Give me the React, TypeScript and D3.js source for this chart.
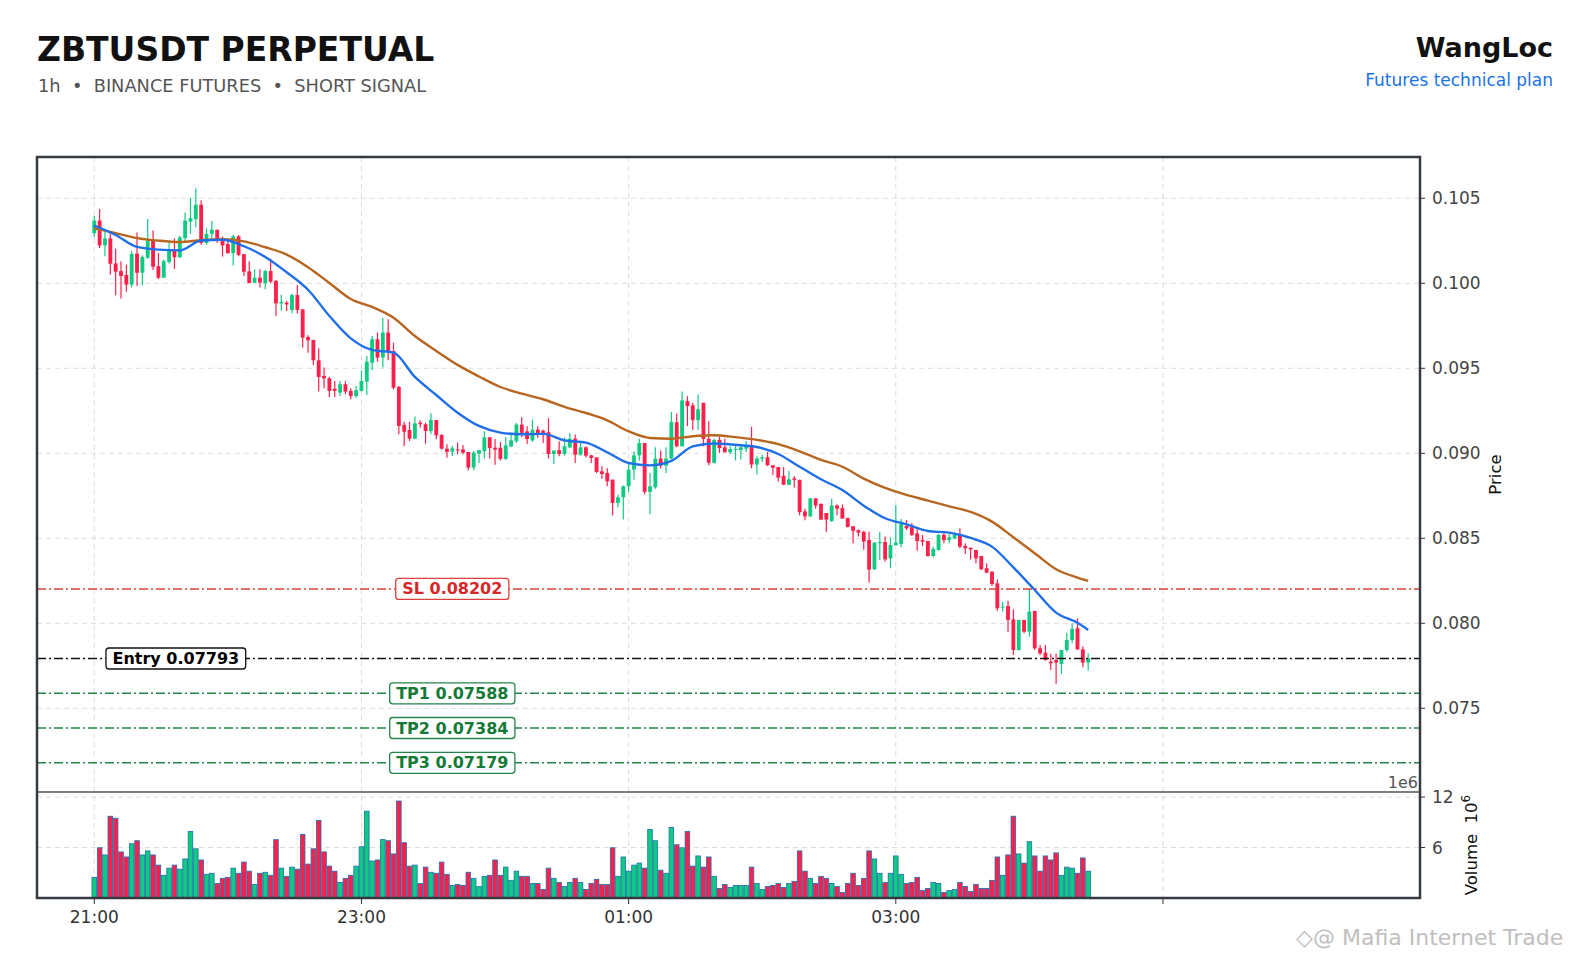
import React, { useEffect, useRef } from "react";
import * as d3 from "d3";

// one candle every 2.4 minutes on the axis (25 per hour)
const opens = [
  0.10295, 0.10369, 0.10223, 0.10264, 0.10117, 0.10072, 0.10049, 0.09992, 0.10175, 0.10062,
  0.1015, 0.10251, 0.10101, 0.10033, 0.10126, 0.10198, 0.10153, 0.10266, 0.10363, 0.10377,
  0.10462, 0.10237, 0.10291, 0.10315, 0.10251, 0.10231, 0.10177, 0.10276, 0.10171, 0.1007,
  0.10004, 0.10033, 0.1, 0.10072, 0.10014, 0.09882, 0.09886, 0.09843, 0.09931, 0.09847,
  0.09684, 0.09667, 0.09547, 0.09455, 0.09441, 0.0938, 0.09357, 0.09406, 0.09367, 0.09337,
  0.09367, 0.09421, 0.09533, 0.09671, 0.09563, 0.0971, 0.09602, 0.0939, 0.09167, 0.09137,
  0.09086, 0.0918, 0.09171, 0.09131, 0.09196, 0.09108, 0.09027, 0.0901, 0.09023, 0.09023,
  0.09008, 0.08916, 0.08998, 0.09012, 0.09094, 0.09033, 0.09033, 0.08967, 0.09041, 0.09071,
  0.09169, 0.09129, 0.09076, 0.09139, 0.09133, 0.09124, 0.08996, 0.09018, 0.08996, 0.09035,
  0.09086, 0.08992, 0.09035, 0.08988, 0.08976, 0.08894, 0.08884, 0.08845, 0.08708, 0.08741,
  0.08806, 0.08904, 0.08988, 0.09061, 0.08773, 0.088, 0.08969, 0.08927, 0.08969, 0.09182,
  0.09041, 0.09307, 0.09282, 0.09195, 0.09297, 0.09085, 0.08944, 0.09079, 0.09035, 0.09006,
  0.09019, 0.09019, 0.09027, 0.09041, 0.08934, 0.08969, 0.08977, 0.0893, 0.08919, 0.08867,
  0.08815, 0.08853, 0.08844, 0.08658, 0.08629, 0.08735, 0.08703, 0.08649, 0.08602, 0.08693,
  0.08678, 0.0862, 0.08571, 0.08548, 0.08538, 0.0849, 0.08318, 0.08471, 0.08478, 0.08382,
  0.08459, 0.08467, 0.08573, 0.08565, 0.08529, 0.0849, 0.08484, 0.08396, 0.08431, 0.0852,
  0.0849, 0.085, 0.0852, 0.08455, 0.08445, 0.08431, 0.08396, 0.08324, 0.08304, 0.08235,
  0.08092, 0.08102, 0.08023, 0.07843, 0.0802, 0.07951, 0.08073, 0.07853, 0.07827, 0.07774,
  0.07784, 0.07761, 0.07843, 0.07902, 0.07971, 0.07847, 0.07769,
];
const highs = [
  0.10396, 0.10437, 0.10305, 0.10303, 0.10204, 0.1013, 0.10111, 0.10188, 0.10299, 0.10163,
  0.10379, 0.10311, 0.10179, 0.1014, 0.10237, 0.10264, 0.1028, 0.10416, 0.10501, 0.10559,
  0.10489, 0.10324, 0.10367, 0.10315, 0.10276, 0.10251, 0.10285, 0.10284, 0.10171, 0.1013,
  0.10082, 0.10082, 0.10078, 0.10144, 0.10019, 0.09932, 0.09896, 0.09939, 0.0999, 0.09847,
  0.09694, 0.09667, 0.09618, 0.09504, 0.09449, 0.09425, 0.09425, 0.09425, 0.09382, 0.09396,
  0.09488, 0.09573, 0.0969, 0.0971, 0.09798, 0.09788, 0.09651, 0.09396, 0.09186, 0.09186,
  0.09216, 0.09194, 0.0918, 0.09235, 0.09196, 0.09112, 0.09053, 0.09043, 0.09063, 0.09049,
  0.09008, 0.09014, 0.09018, 0.09129, 0.09094, 0.09084, 0.09067, 0.09094, 0.0912, 0.09178,
  0.09212, 0.09159, 0.09198, 0.09159, 0.09139, 0.09208, 0.09016, 0.09071, 0.09094, 0.0912,
  0.0911, 0.09061, 0.09041, 0.08992, 0.08976, 0.08924, 0.08914, 0.08845, 0.08757, 0.0881,
  0.08943, 0.09012, 0.09086, 0.09061, 0.08884, 0.09035, 0.09016, 0.09035, 0.09243, 0.09234,
  0.09363, 0.09336, 0.09297, 0.09346, 0.09297, 0.09189, 0.09085, 0.09098, 0.09085, 0.09041,
  0.0905, 0.09046, 0.09073, 0.09156, 0.08983, 0.08992, 0.09008, 0.0893, 0.08919, 0.08919,
  0.08896, 0.08867, 0.08844, 0.08674, 0.08735, 0.08735, 0.08703, 0.08649, 0.08732, 0.08699,
  0.08699, 0.0862, 0.08571, 0.08552, 0.08544, 0.08539, 0.08475, 0.08539, 0.0851, 0.08506,
  0.08696, 0.08614, 0.08608, 0.08588, 0.08559, 0.0852, 0.08484, 0.08451, 0.08525, 0.08539,
  0.08525, 0.08533, 0.08559, 0.08471, 0.08445, 0.08431, 0.08396, 0.08353, 0.08304, 0.08259,
  0.08127, 0.08133, 0.08082, 0.0802, 0.0802, 0.082, 0.08073, 0.07872, 0.07872, 0.07823,
  0.07823, 0.07843, 0.07945, 0.08, 0.08029, 0.07863, 0.07824,
];
const lows = [
  0.10272, 0.10208, 0.10159, 0.1005, 0.0993, 0.09911, 0.09951, 0.09975, 0.09984, 0.09988,
  0.10144, 0.10078, 0.10025, 0.10031, 0.10115, 0.10085, 0.10151, 0.10237, 0.10291, 0.1033,
  0.10227, 0.10227, 0.10264, 0.10237, 0.10157, 0.10175, 0.10105, 0.10159, 0.10043, 0.1,
  0.10002, 0.09975, 0.09965, 0.1, 0.09808, 0.09839, 0.09837, 0.09822, 0.09822, 0.09622,
  0.09592, 0.0952, 0.09363, 0.09382, 0.09331, 0.09331, 0.09337, 0.09347, 0.09318, 0.09327,
  0.09363, 0.09343, 0.09488, 0.09539, 0.09504, 0.09547, 0.09376, 0.09112, 0.09043, 0.09072,
  0.09082, 0.09151, 0.09057, 0.09112, 0.09082, 0.09023, 0.08974, 0.08984, 0.08994, 0.08994,
  0.089, 0.089, 0.08943, 0.08969, 0.08969, 0.08933, 0.08957, 0.08961, 0.09035, 0.09061,
  0.09096, 0.09055, 0.09067, 0.0909, 0.09061, 0.08969, 0.08937, 0.08982, 0.08986, 0.09031,
  0.08943, 0.08986, 0.08976, 0.08943, 0.08884, 0.08851, 0.08806, 0.08635, 0.08682, 0.0861,
  0.08773, 0.08845, 0.08957, 0.08757, 0.08643, 0.08792, 0.0891, 0.08884, 0.08963, 0.09035,
  0.09041, 0.0916, 0.09137, 0.09137, 0.09041, 0.0893, 0.08938, 0.09002, 0.09006, 0.08996,
  0.08958, 0.08963, 0.09008, 0.08911, 0.08876, 0.0895, 0.08925, 0.08873, 0.08834, 0.08815,
  0.08815, 0.08799, 0.08635, 0.08606, 0.08625, 0.08674, 0.0861, 0.08538, 0.08596, 0.08635,
  0.08616, 0.08564, 0.08471, 0.0851, 0.08432, 0.0824, 0.08314, 0.08373, 0.08363, 0.08324,
  0.08459, 0.08447, 0.08549, 0.08514, 0.08427, 0.08455, 0.08392, 0.08388, 0.08427, 0.08471,
  0.08471, 0.08494, 0.08441, 0.08408, 0.08376, 0.08353, 0.08314, 0.08294, 0.0822, 0.08074,
  0.08069, 0.07951, 0.07814, 0.07839, 0.07941, 0.07922, 0.07843, 0.07814, 0.0778, 0.07725,
  0.07645, 0.07702, 0.07833, 0.07882, 0.07843, 0.07741, 0.07722,
];
const closes = [
  0.10369, 0.10223, 0.10264, 0.10115, 0.10068, 0.10043, 0.09992, 0.10173, 0.10062, 0.10155,
  0.10251, 0.10097, 0.10033, 0.1013, 0.10198, 0.10153, 0.1027, 0.10369, 0.10383, 0.10462,
  0.10237, 0.10291, 0.10315, 0.10262, 0.10223, 0.10177, 0.10276, 0.10167, 0.10068, 0.10002,
  0.10033, 0.10004, 0.10072, 0.1001, 0.09882, 0.09891, 0.09876, 0.09931, 0.09843, 0.0968,
  0.09665, 0.09547, 0.09449, 0.09441, 0.09367, 0.09367, 0.09406, 0.09363, 0.09337, 0.09371,
  0.09425, 0.09539, 0.09671, 0.09563, 0.0971, 0.09602, 0.09386, 0.09161, 0.09127, 0.09086,
  0.09176, 0.09171, 0.09131, 0.09196, 0.09106, 0.09027, 0.09008, 0.09029, 0.0902, 0.09004,
  0.08916, 0.09004, 0.09018, 0.09094, 0.09031, 0.09022, 0.08967, 0.09047, 0.09076, 0.09169,
  0.0912, 0.09084, 0.09139, 0.09114, 0.0912, 0.08996, 0.09016, 0.08996, 0.09041, 0.09086,
  0.08992, 0.09035, 0.08986, 0.08973, 0.0889, 0.08878, 0.08835, 0.08708, 0.08741, 0.08806,
  0.08904, 0.08988, 0.09061, 0.08773, 0.08806, 0.08969, 0.08927, 0.08969, 0.09184, 0.09041,
  0.09311, 0.09278, 0.09195, 0.09259, 0.09085, 0.08944, 0.09079, 0.09031, 0.09006, 0.09025,
  0.09025, 0.09035, 0.09044, 0.08934, 0.08969, 0.08977, 0.0893, 0.08915, 0.08857, 0.08815,
  0.08847, 0.08844, 0.08654, 0.08629, 0.08735, 0.08693, 0.0861, 0.0861, 0.08693, 0.08674,
  0.08616, 0.08567, 0.08544, 0.08533, 0.08481, 0.08316, 0.08475, 0.08478, 0.08376, 0.08461,
  0.08475, 0.08584, 0.08559, 0.0852, 0.08484, 0.0848, 0.08396, 0.08437, 0.0852, 0.0849,
  0.08506, 0.0852, 0.08451, 0.08441, 0.08435, 0.08382, 0.08318, 0.08298, 0.08231, 0.08088,
  0.08098, 0.0802, 0.07843, 0.0802, 0.07951, 0.08069, 0.07853, 0.07823, 0.07784, 0.07765,
  0.07769, 0.07843, 0.07902, 0.07967, 0.07847, 0.07769, 0.07794,
];
// volume in millions
const volumes = [
  2.46, 5.97, 5.12, 9.72, 9.48, 5.48, 4.88, 6.45, 6.81, 5.12,
  5.6, 5.12, 3.91, 2.7, 3.55, 3.91, 3.43, 4.64, 7.9, 5.85,
  4.52, 2.82, 2.94, 1.73, 2.34, 2.46, 3.55, 2.94, 4.27, 3.19,
  1.61, 2.94, 3.06, 2.7, 6.94, 3.55, 2.58, 3.67, 3.43, 7.54,
  4.03, 5.85, 9.23, 5.48, 3.79, 3.19, 1.85, 2.34, 2.7, 3.79,
  6.09, 10.32, 4.4, 4.52, 6.94, 6.81, 5.24, 11.53, 6.57, 3.79,
  3.91, 1.73, 3.67, 3.06, 2.94, 4.27, 2.82, 1.49, 1.61, 1.49,
  3.06, 2.34, 1.37, 2.58, 2.7, 4.52, 2.7, 3.67, 2.1, 3.19,
  2.58, 2.58, 1.73, 1.73, 1.01, 3.55, 2.34, 1.85, 1.37, 1.85,
  2.34, 1.85, 1.01, 1.73, 2.22, 1.61, 1.61, 5.97, 2.58, 4.88,
  3.19, 3.91, 4.15, 3.55, 8.15, 6.81, 3.31, 2.94, 8.39, 6.33,
  5.97, 7.9, 3.79, 5.0, 3.67, 4.88, 2.58, 1.13, 1.61, 1.25,
  1.49, 1.49, 1.49, 3.67, 1.73, 1.01, 1.37, 1.49, 1.73, 1.25,
  1.73, 1.98, 5.6, 3.19, 2.34, 1.73, 2.58, 2.34, 1.73, 1.37,
  0.65, 1.73, 2.94, 1.49, 2.34, 5.6, 4.64, 2.94, 1.85, 2.94,
  5.0, 2.82, 1.73, 1.85, 2.46, 0.89, 1.13, 1.85, 1.73, 0.65,
  0.89, 1.01, 1.85, 1.37, 0.77, 1.61, 1.13, 1.13, 2.1, 4.88,
  2.7, 5.12, 9.72, 5.24, 4.15, 6.69, 5.0, 3.19, 5.0, 4.52,
  5.36, 2.7, 3.67, 3.55, 2.94, 4.76, 3.19,
];

// moving averages, at these candle indexes
const maIndex = [
  0, 4, 8, 12, 16, 20, 24, 28, 32, 36, 40, 44, 48, 52, 56, 60, 64, 68, 72, 76, 80, 84, 88, 92,
  96, 100, 104, 108, 112, 116, 120, 124, 128, 132, 136, 140, 144, 148, 152, 156, 160, 164, 168,
  172, 176, 180, 184, 186,
];
const maFast = [
  0.1034, 0.10284, 0.10214, 0.10198, 0.10194, 0.10252, 0.10256, 0.10218, 0.10155, 0.10065,
  0.09962, 0.09808, 0.09676, 0.09608, 0.09592, 0.09449, 0.09343, 0.09239, 0.09161, 0.09122,
  0.09112, 0.09114, 0.09076, 0.09063, 0.09006, 0.08943, 0.08929, 0.08955, 0.09041, 0.09058,
  0.0905, 0.09037, 0.08996, 0.08921, 0.08847, 0.08784, 0.08692, 0.08618, 0.08582, 0.08543,
  0.08533, 0.08502, 0.08451, 0.08329, 0.08196, 0.08063, 0.08003, 0.07961,
];
const maSlow = [
  0.10324, 0.10295, 0.10266, 0.10251, 0.10243, 0.10254, 0.1026, 0.10247, 0.10212, 0.10169,
  0.10095, 0.10002, 0.09908, 0.09861, 0.09798, 0.0969, 0.09602, 0.0952, 0.09452, 0.0939,
  0.09351, 0.09318, 0.09273, 0.09237, 0.09194, 0.09129, 0.0909, 0.09086, 0.091, 0.09106,
  0.09095, 0.09079, 0.09054, 0.09012, 0.08961, 0.08921, 0.08851, 0.08796, 0.08755, 0.08722,
  0.08688, 0.08655, 0.08598, 0.08506, 0.08412, 0.08318, 0.08269, 0.0825,
];

const levelNames = ["SL", "Entry", "TP1", "TP2", "TP3"];
const levelValues = [0.08202, 0.07793, 0.07588, 0.07384, 0.07179];
const levelColors = ["#d9423a", "#111111", "#23844a", "#23844a", "#23844a"];
const levelTextColors = ["#d62728", "#000000", "#157a38", "#157a38", "#157a38"];

const priceTicks = [0.075, 0.08, 0.085, 0.09, 0.095, 0.1, 0.105];
const volumeTicks = [6, 12];
const timeTickHours = [21, 23, 25, 27, 29];
const timeTickLabels = ["21:00", "23:00", "01:00", "03:00", ""];

const W = 1590;
const H = 962;
const FONT = "DejaVu Sans, Verdana, sans-serif";

const L = 37;
const R = 1420;
const TOP = 157;
const MID = 792;
const BOT = 898;

const start = new Date(2024, 0, 1, 21, 0, 0);
const STEP_MS = 144000;
const tAt = (i: number) => new Date(start.getTime() + i * STEP_MS);

const GREEN = "#0ecb81";
const RED = "#ff1f4b";

export default function App() {
  const ref = useRef<SVGSVGElement>(null);

  useEffect(() => {
    if (!ref.current) return;
    const svg = d3.select(ref.current);
    svg.selectAll("*").remove();

    const x = d3.scaleTime().domain([tAt(-10.72), tAt(248.1)]).range([L, R]);
    const y = d3.scaleLinear().domain([0.070076, 0.10743]).range([MID, TOP]);
    const yv = d3.scaleLinear().domain([0, 12.6]).range([BOT, MID]);
    const step = x(tAt(1)) - x(tAt(0));

    svg.append("rect").attr("width", W).attr("height", H).attr("fill", "#fff");

    // header
    svg.append("text").attr("x", 37).attr("y", 61).attr("font-family", FONT)
      .attr("font-size", 33).attr("font-weight", "bold").attr("fill", "#111")
      .text("ZBTUSDT PERPETUAL");
    svg.append("text").attr("x", 38).attr("y", 92).attr("font-family", FONT)
      .attr("font-size", 17.8).attr("fill", "#555").style("white-space", "pre")
      .text("1h  •  BINANCE FUTURES  •  SHORT SIGNAL");
    svg.append("text").attr("x", 1553).attr("y", 56.5).attr("text-anchor", "end")
      .attr("font-family", FONT).attr("font-size", 27).attr("font-weight", "bold")
      .attr("fill", "#111").text("WangLoc");
    svg.append("text").attr("x", 1553).attr("y", 86).attr("text-anchor", "end")
      .attr("font-family", FONT).attr("font-size", 17).attr("fill", "#1a73e8")
      .text("Futures technical plan");

    const defs = svg.append("defs");
    defs.append("clipPath").attr("id", "clipPrice").append("rect")
      .attr("x", L).attr("y", TOP).attr("width", R - L).attr("height", MID - TOP);
    defs.append("clipPath").attr("id", "clipVol").append("rect")
      .attr("x", L).attr("y", MID).attr("width", R - L).attr("height", BOT - MID);

    // grid
    const grid = svg.append("g").attr("stroke", "#dcdcdc").attr("stroke-width", 1)
      .attr("stroke-dasharray", "5,4");
    priceTicks.forEach((p) => {
      grid.append("line").attr("x1", L).attr("x2", R).attr("y1", y(p)).attr("y2", y(p));
    });
    volumeTicks.forEach((v) => {
      grid.append("line").attr("x1", L).attr("x2", R).attr("y1", yv(v)).attr("y2", yv(v));
    });
    timeTickHours.forEach((h) => {
      const xx = x(new Date(2024, 0, 1, h, 0, 0));
      grid.append("line").attr("x1", xx).attr("x2", xx).attr("y1", TOP).attr("y2", BOT);
    });

    const idx = d3.range(closes.length);
    const up = (i: number) => closes[i] >= opens[i];

    // volume
    const vol = svg.append("g").attr("clip-path", "url(#clipVol)");
    const bw = step * 0.86;
    vol.selectAll("rect").data(idx).join("rect")
      .attr("x", (i) => x(tAt(i)) - bw / 2)
      .attr("width", bw)
      .attr("y", (i) => yv(volumes[i]))
      .attr("height", (i) => yv(0) - yv(volumes[i]))
      .attr("fill", (i) => (up(i) ? GREEN : RED))
      .attr("stroke", "#1f6fb0")
      .attr("stroke-width", 0.8);

    // candles
    const price = svg.append("g").attr("clip-path", "url(#clipPrice)");
    const cw = step * 0.72;
    price.append("g").selectAll("line").data(idx).join("line")
      .attr("x1", (i) => x(tAt(i))).attr("x2", (i) => x(tAt(i)))
      .attr("y1", (i) => y(highs[i])).attr("y2", (i) => y(lows[i]))
      .attr("stroke", (i) => (up(i) ? GREEN : RED))
      .attr("stroke-width", 1.2);
    price.append("g").selectAll("rect").data(idx).join("rect")
      .attr("x", (i) => x(tAt(i)) - cw / 2)
      .attr("width", cw)
      .attr("y", (i) => y(Math.max(opens[i], closes[i])))
      .attr("height", (i) => Math.max(1, Math.abs(y(opens[i]) - y(closes[i]))))
      .attr("fill", (i) => (up(i) ? GREEN : RED));

    // moving averages
    const maLine = (vals: number[]) =>
      d3.line<number>()
        .x((k) => x(tAt(maIndex[k])))
        .y((k) => y(vals[k]))
        .curve(d3.curveMonotoneX)(d3.range(maIndex.length)) || "";
    price.append("path").attr("d", maLine(maSlow)).attr("fill", "none")
      .attr("stroke", "#b8651f").attr("stroke-width", 2.4);
    price.append("path").attr("d", maLine(maFast)).attr("fill", "none")
      .attr("stroke", "#1f6fe8").attr("stroke-width", 2.4);

    // trade levels
    levelValues.forEach((v, k) => {
      price.append("line").attr("x1", L).attr("x2", R).attr("y1", y(v)).attr("y2", y(v))
        .attr("stroke", levelColors[k]).attr("stroke-width", 1.5)
        .attr("stroke-dasharray", "9,3,2,3");
    });
    levelValues.forEach((v, k) => {
      const g = svg.append("g");
      const label = `${levelNames[k]} ${v.toFixed(5)}`;
      const isEntry = levelNames[k] === "Entry";
      const txt = g.append("text")
        .attr("font-family", FONT).attr("font-size", 16).attr("font-weight", "bold")
        .attr("fill", levelTextColors[k]).attr("dominant-baseline", "central")
        .attr("y", y(v)).text(label);
      const tw = (txt.node() as SVGTextElement).getComputedTextLength();
      const padX = 6.5;
      const left = isEntry ? x(tAt(2)) + 1 : x(tAt(67)) - tw / 2 - padX;
      txt.attr("x", left + padX);
      g.insert("rect", "text")
        .attr("x", left).attr("y", y(v) - 10.5)
        .attr("width", tw + padX * 2).attr("height", 21)
        .attr("rx", 3).attr("fill", "#fff")
        .attr("stroke", levelColors[k]).attr("stroke-width", 1.3);
    });

    // frame
    svg.append("line").attr("x1", L).attr("x2", R).attr("y1", MID).attr("y2", MID)
      .attr("stroke", "#555").attr("stroke-width", 1.5);
    svg.append("rect").attr("x", L).attr("y", TOP).attr("width", R - L)
      .attr("height", BOT - TOP).attr("fill", "none")
      .attr("stroke", "#343a40").attr("stroke-width", 2.5);

    // right axes
    const ax = svg.append("g").attr("font-family", FONT).attr("font-size", 17).attr("fill", "#444");
    priceTicks.forEach((p) => {
      ax.append("line").attr("x1", R).attr("x2", R + 5).attr("y1", y(p)).attr("y2", y(p))
        .attr("stroke", "#333");
      ax.append("text").attr("x", R + 12).attr("y", y(p)).attr("dominant-baseline", "central")
        .text(d3.format(".3f")(p));
    });
    volumeTicks.forEach((v) => {
      ax.append("line").attr("x1", R).attr("x2", R + 5).attr("y1", yv(v)).attr("y2", yv(v))
        .attr("stroke", "#333");
      ax.append("text").attr("x", R + 12).attr("y", yv(v)).attr("dominant-baseline", "central")
        .text(String(v));
    });
    ax.append("text").attr("x", R - 2).attr("y", MID - 10).attr("text-anchor", "end")
      .attr("font-size", 16).attr("dominant-baseline", "central").attr("fill", "#555").text("1e6");

    svg.append("text").attr("transform", `translate(1501,${(TOP + MID) / 2}) rotate(-90)`)
      .attr("text-anchor", "middle").attr("font-family", FONT).attr("font-size", 16.5)
      .attr("fill", "#111").text("Price");
    const vl = svg.append("text")
      .attr("transform", `translate(1477,${(MID + BOT) / 2}) rotate(-90)`)
      .attr("text-anchor", "middle").attr("font-family", FONT).attr("font-size", 16.5)
      .attr("fill", "#111").style("white-space", "pre");
    vl.append("tspan").text("Volume  10");
    vl.append("tspan").attr("dy", -7).attr("font-size", 12).text("6");

    // time axis
    const tx = svg.append("g").attr("font-family", FONT).attr("font-size", 17).attr("fill", "#333");
    timeTickHours.forEach((h, k) => {
      const xx = x(new Date(2024, 0, 1, h, 0, 0));
      tx.append("line").attr("x1", xx).attr("x2", xx).attr("y1", BOT).attr("y2", BOT + 6)
        .attr("stroke", "#333");
      tx.append("text").attr("x", xx).attr("y", BOT + 19).attr("text-anchor", "middle")
        .attr("dominant-baseline", "central").text(timeTickLabels[k]);
    });

    // watermark
    svg.append("text").attr("x", 1296).attr("y", 945).attr("font-family", FONT)
      .attr("font-size", 22).attr("fill", "#b4b4b4").attr("opacity", 0.85)
      .text("◇@ Mafia Internet Trade");
  }, []);

  return (
    <svg
      ref={ref}
      width={W}
      height={H}
      style={{ position: "absolute", left: 0, top: 0, display: "block" }}
    />
  );
}
